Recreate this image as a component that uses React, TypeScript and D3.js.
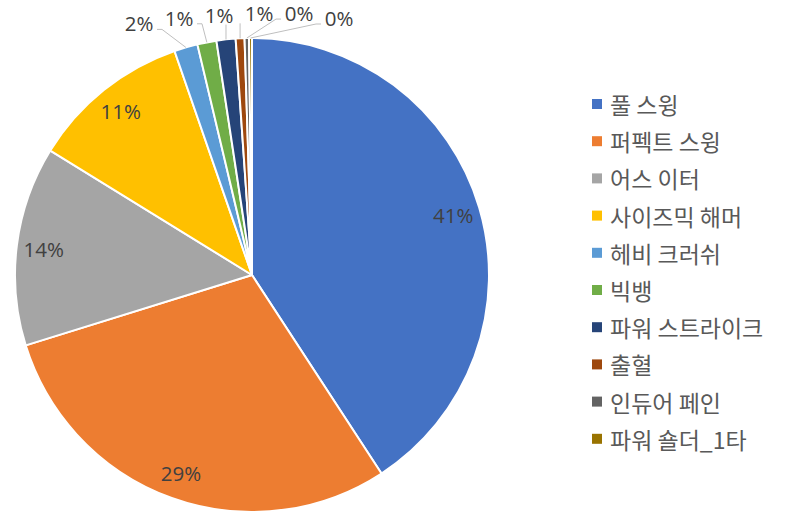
import React from "react";
import * as d3 from "d3";

const categories = [
  "풀 스윙",
  "퍼펙트 스윙",
  "어스 이터",
  "사이즈믹 해머",
  "헤비 크러쉬",
  "빅뱅",
  "파워 스트라이크",
  "출혈",
  "인듀어 페인",
  "파워 숄더_1타",
];
const values = [408, 294, 136, 109, 16, 13, 13, 6, 3, 2];
const colors = [
  "#4472C4",
  "#ED7D31",
  "#A5A5A5",
  "#FFC000",
  "#5B9BD5",
  "#70AD47",
  "#264478",
  "#9E480E",
  "#636363",
  "#997300",
];

const W = 800;
const H = 518;
const cx = 252;
const cy = 275;
const R = 237;

export default function App() {
  const total = d3.sum(values);
  const pie = d3
    .pie<number>()
    .sort(null)
    .value((d) => d)
    .startAngle(0)
    .endAngle(Math.PI * 2);
  const arcs = pie(values);
  const arcGen = d3.arc<d3.PieArcDatum<number>>().innerRadius(0).outerRadius(R);
  const labelArc = d3
    .arc<d3.PieArcDatum<number>>()
    .innerRadius(R * 0.886)
    .outerRadius(R * 0.886);

  const pct = (v: number) => `${Math.round((v / total) * 100)}%`;
  const isInner = (v: number) => v / total >= 0.05;

  const outer = arcs.filter((a) => !isInner(a.data));
  const n = outer.length;
  const gap = 40;
  const spreadCenter = cx - 13;
  const hw = 15;
  const labelSize = 20.5;

  const legendX = 592;
  const legendY0 = 104;
  const legendStep = 37.2;

  return (
    <svg
      width={W}
      height={H}
      style={{ position: "absolute", left: 0, top: 0, background: "#fff" }}
      fontFamily="'Open Sans', 'Noto Sans', sans-serif"
    >
      <g transform={`translate(${cx},${cy})`}>
        {arcs.map((a, i) => (
          <path
            key={i}
            d={arcGen(a) || ""}
            fill={colors[i]}
            stroke="#fff"
            strokeWidth={2}
            strokeLinejoin="round"
          />
        ))}
        {arcs.map((a, i) => {
          if (!isInner(a.data)) return null;
          const [x, y] = labelArc.centroid(a);
          return (
            <text
              key={"l" + i}
              x={x}
              y={y}
              textAnchor="middle"
              dominantBaseline="central"
              fontSize={labelSize}
              fill="#404040"
            >
              {pct(a.data)}
            </text>
          );
        })}
      </g>
      {outer.map((a, j) => {
        const mid = (a.startAngle + a.endAngle) / 2;
        const px = cx + R * Math.sin(mid);
        const py = cy - R * Math.cos(mid);
        const lx = spreadCenter + (j - (n - 1) / 2) * gap;
        const ly = Math.max(
          12.5,
          cy - (R + 25) * Math.cos(mid) + (j === 5 ? 5 : 0)
        );
        let pts: [number, number][];
        if (Math.abs(lx - px) < hw + 6) {
          pts = [
            [px, ly + 10],
            [px, py],
          ];
        } else if (lx < px) {
          pts = [
            [lx + hw + 3, ly + 6],
            [lx + hw + 8, ly + 6],
            [px, py],
          ];
        } else {
          pts = [
            [lx - hw - 3, ly + 6],
            [lx - hw - 8, ly + 6],
            [px, py],
          ];
        }
        const i = arcs.indexOf(a);
        return (
          <g key={"o" + i}>
            <path
              d={d3.line()(pts) || ""}
              fill="none"
              stroke="#BFBFBF"
              strokeWidth={1}
            />
            <text
              x={lx}
              y={ly}
              textAnchor="middle"
              dominantBaseline="central"
              fontSize={labelSize}
              fill="#404040"
            >
              {pct(a.data)}
            </text>
          </g>
        );
      })}
      <g fontFamily="'Noto Sans CJK KR', sans-serif">
        {categories.map((c, i) => (
          <g key={"lg" + i} transform={`translate(${legendX},${legendY0 + i * legendStep})`}>
            <rect x={0} y={-5} width={10} height={10} fill={colors[i]} />
            <text
              x={18}
              y={0}
              dominantBaseline="central"
              fontSize={23}
              fill="#595959"
            >
              {c}
            </text>
          </g>
        ))}
      </g>
    </svg>
  );
}
